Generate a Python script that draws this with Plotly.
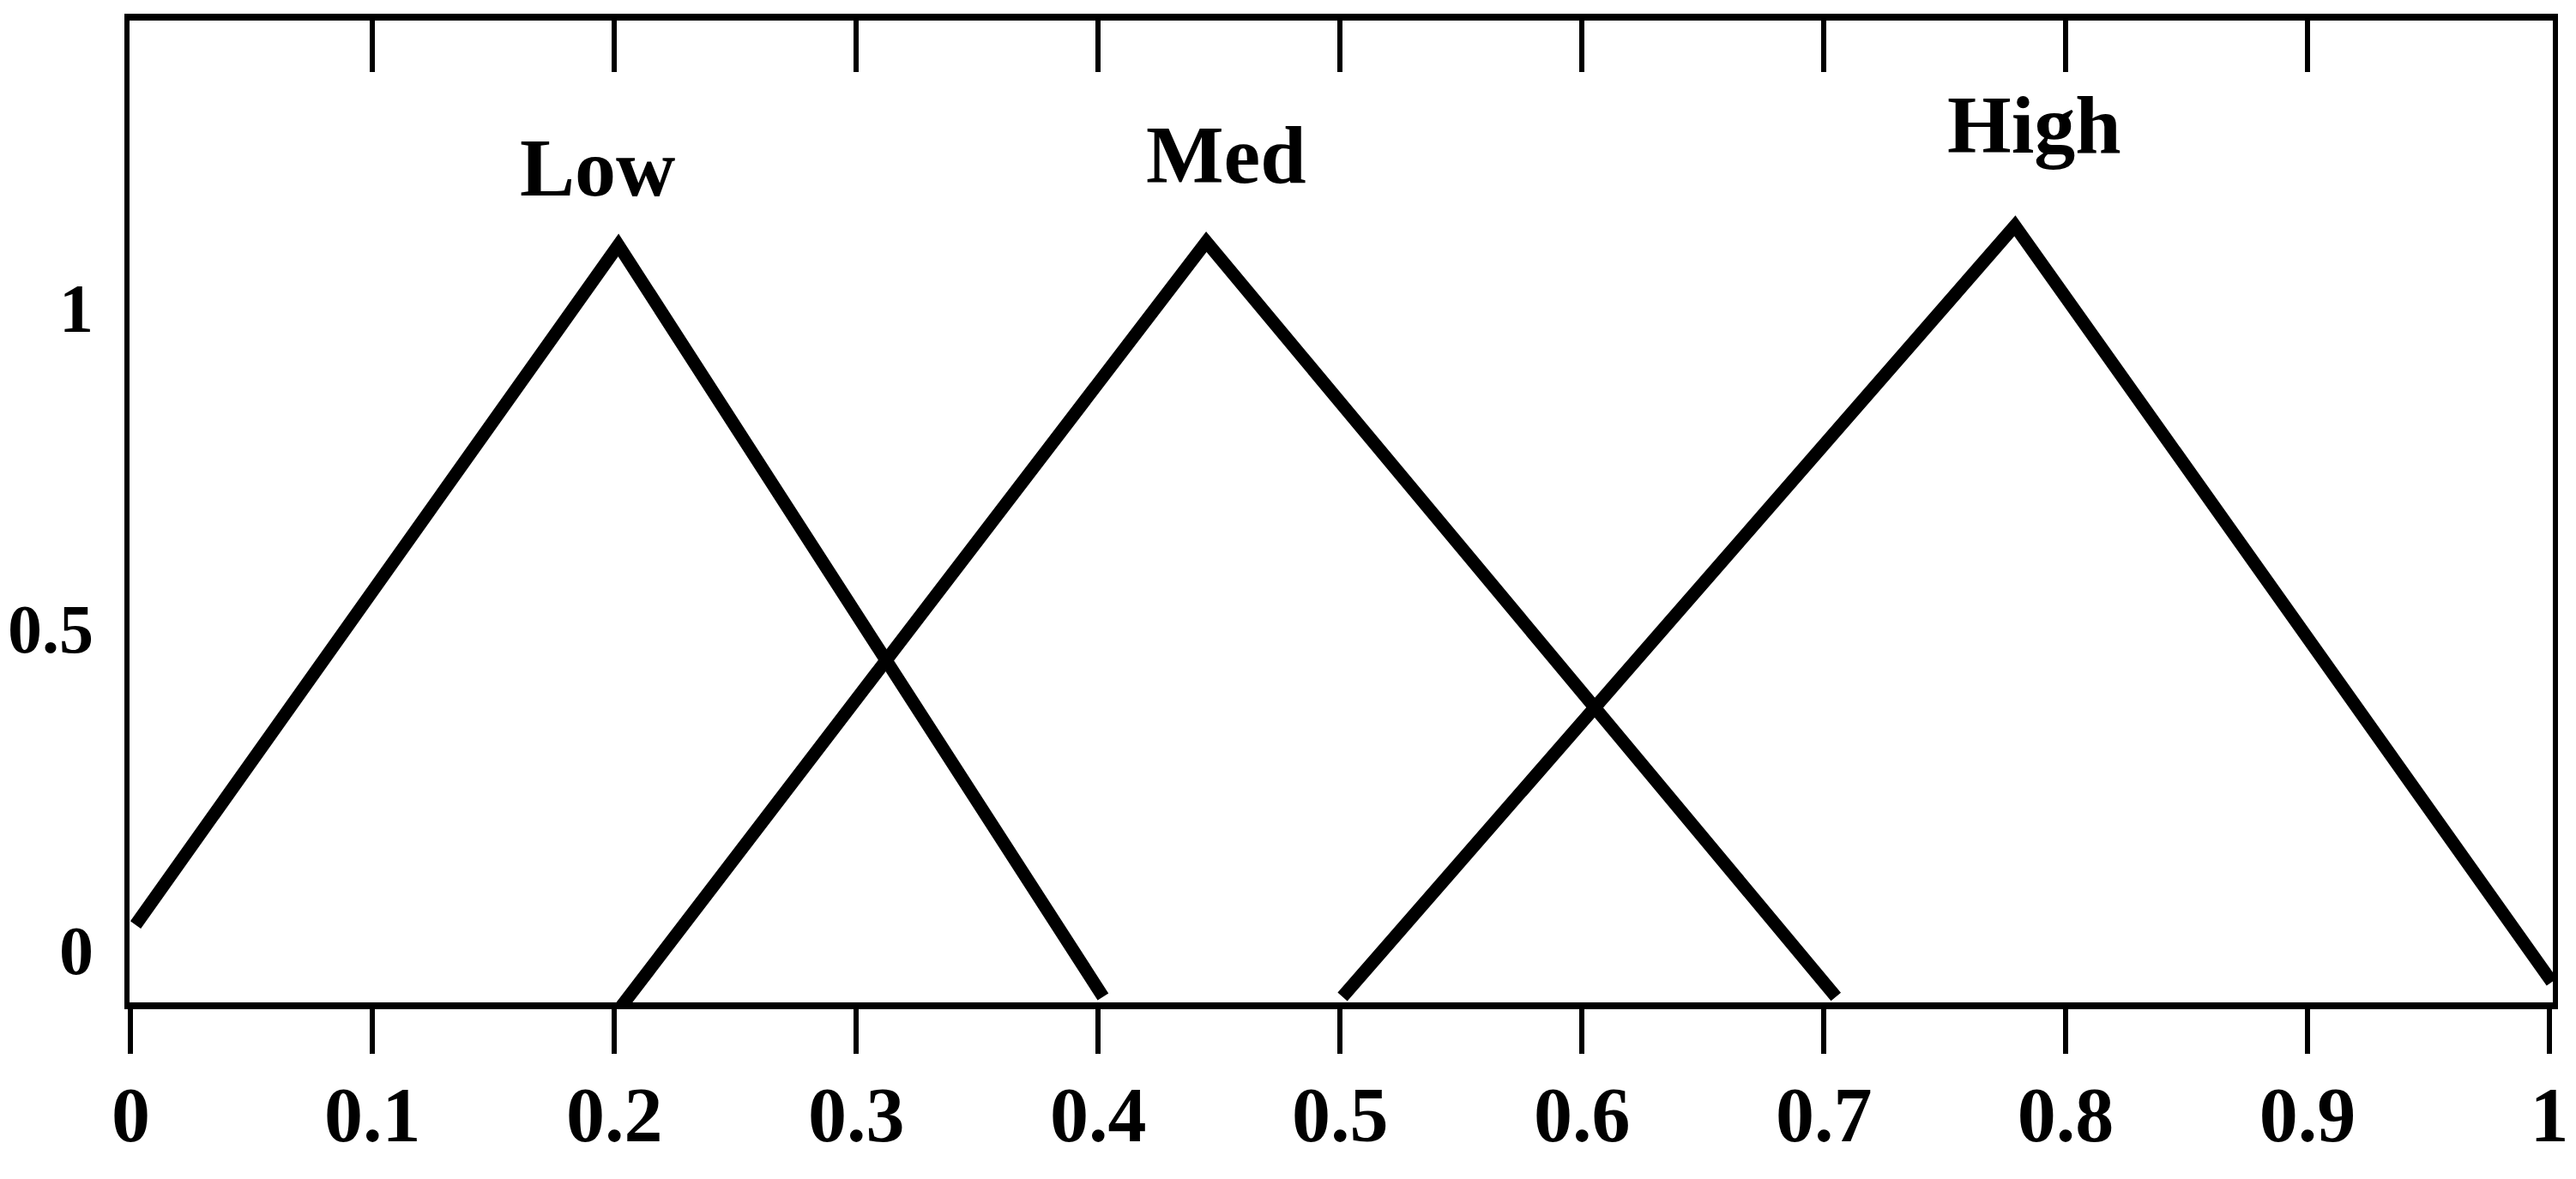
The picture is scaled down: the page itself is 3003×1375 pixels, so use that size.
import plotly.graph_objects as go

# Funções de pertinência
low_x = [0.002, 0.2016, 0.402]
low_y = [0.056, 1.115, -0.056]
med_x = [0.2016, 0.4447, 0.705]
med_y = [-0.077, 1.12, -0.056]
high_x = [0.501, 0.779, 1.001]
high_y = [-0.056, 1.145, -0.033]

# Rótulos dos conjuntos
set_names = ["Low", "Med", "High"]
set_label_x = [0.193, 0.453, 0.787]
set_label_y = [1.235, 1.255, 1.302]

# Marcas dos eixos
x_ticks = [0, 0.1, 0.2, 0.3, 0.4, 0.5, 0.6, 0.7, 0.8, 0.9, 1]
x_tick_text = ["0", "0.1", "0.2", "0.3", "0.4", "0.5", "0.6", "0.7", "0.8", "0.9", "1"]
top_ticks = [0.1, 0.2, 0.3, 0.4, 0.5, 0.6, 0.7, 0.8, 0.9]
y_ticks = [0, 0.5, 1]
y_tick_text = ["0", "0.5", "1"]

serif = "Liberation Serif, Times New Roman, serif"
x_range = [-0.0005, 1.0014]
y_range = [-0.0647, 1.4647]

fig = go.Figure()
for xs, ys in [(low_x, low_y), (med_x, med_y), (high_x, high_y)]:
    fig.add_trace(go.Scatter(x=xs, y=ys, mode="lines",
                             line=dict(color="black", width=15),
                             showlegend=False, hoverinfo="skip"))

for name, lx, ly in zip(set_names, set_label_x, set_label_y):
    fig.add_annotation(x=lx, y=ly, text="<b>" + name + "</b>", showarrow=False,
                       font=dict(family=serif, size=96, color="black"))

fig.update_layout(
    width=3003, height=1375,
    margin=dict(l=143, r=35, t=16, b=214),
    paper_bgcolor="white", plot_bgcolor="white",
    showlegend=False,
    xaxis=dict(range=x_range, tickmode="array", tickvals=x_ticks,
               ticktext=["<b>" + t + "</b>" for t in x_tick_text],
               ticks="outside", ticklen=52, tickwidth=6, tickcolor="black",
               showline=True, linewidth=8, linecolor="black", mirror=True,
               showgrid=False, zeroline=False, ticklabelstandoff=-6,
               automargin=False,
               tickfont=dict(family=serif, size=90, color="black")),
    xaxis2=dict(range=x_range, overlaying="x", side="top", anchor="y",
                tickmode="array", tickvals=top_ticks, showticklabels=False,
                ticks="inside", ticklen=60, tickwidth=6, tickcolor="black",
                showline=False, showgrid=False, zeroline=False,
                automargin=False),
    yaxis=dict(range=y_range, tickmode="array", tickvals=y_ticks,
               ticktext=["<b>" + t + "</b>" for t in y_tick_text],
               ticks="", showline=True, linewidth=6, linecolor="black",
               mirror=True, showgrid=False, zeroline=False,
               ticklabelstandoff=20, ticklabelshift=-13, automargin=False,
               tickfont=dict(family=serif, size=80, color="black")),
)

# traço invisível para o eixo superior aparecer
fig.add_trace(go.Scatter(x=[0.5], y=[0.5], xaxis="x2", mode="markers",
                         marker=dict(opacity=0), showlegend=False,
                         hoverinfo="skip"))

fig.write_html("out.html")
